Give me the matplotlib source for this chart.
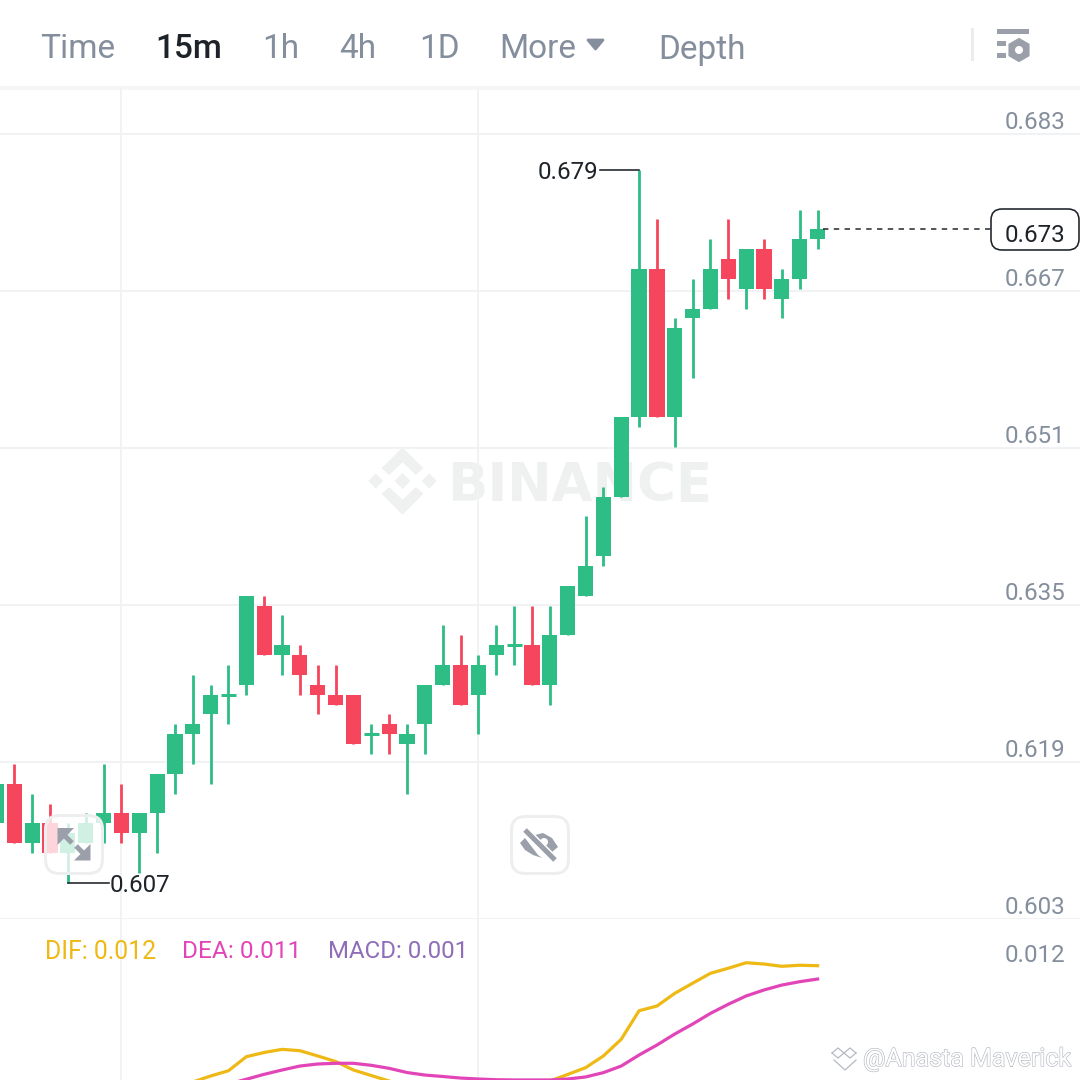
"""Binance style 15m candlestick chart with MACD panel."""

import numpy as np
import matplotlib
matplotlib.use("Agg")
import matplotlib.pyplot as plt
import matplotlib.patheffects as pe
from matplotlib.patches import Circle, FancyBboxPatch, Polygon, Rectangle

plt.rcParams['font.family'] = ['Roboto', 'DejaVu Sans']

# candles, oldest first
opens = [0.613, 0.617, 0.611, 0.613, 0.610, 0.611, 0.613, 0.614, 0.612, 0.614,
         0.618, 0.622, 0.624, 0.626, 0.627, 0.635, 0.630, 0.630, 0.627, 0.626,
         0.626, 0.622, 0.623, 0.621, 0.623, 0.627, 0.629, 0.626, 0.630, 0.631,
         0.631, 0.627, 0.632, 0.636, 0.640, 0.646, 0.654, 0.669, 0.654, 0.664,
         0.665, 0.670, 0.667, 0.671, 0.666, 0.668, 0.672]
closes = [0.617, 0.611, 0.613, 0.610, 0.612, 0.613, 0.614, 0.612, 0.614, 0.618,
          0.622, 0.623, 0.626, 0.626, 0.636, 0.630, 0.631, 0.628, 0.626, 0.625,
          0.621, 0.622, 0.622, 0.622, 0.627, 0.629, 0.625, 0.629, 0.631, 0.631,
          0.627, 0.632, 0.637, 0.639, 0.646, 0.654, 0.669, 0.654, 0.663, 0.665,
          0.669, 0.668, 0.671, 0.667, 0.668, 0.672, 0.673]
highs = [0.617, 0.619, 0.616, 0.615, 0.613, 0.614, 0.619, 0.617, 0.614, 0.618,
         0.623, 0.628, 0.627, 0.629, 0.636, 0.636, 0.634, 0.631, 0.629, 0.629,
         0.626, 0.623, 0.624, 0.623, 0.627, 0.633, 0.632, 0.630, 0.633, 0.635,
         0.635, 0.635, 0.637, 0.644, 0.647, 0.654, 0.679, 0.674, 0.664, 0.668,
         0.672, 0.674, 0.671, 0.672, 0.669, 0.675, 0.675]
lows = [0.613, 0.611, 0.610, 0.610, 0.607, 0.611, 0.611, 0.611, 0.608, 0.610,
        0.616, 0.619, 0.617, 0.623, 0.626, 0.630, 0.628, 0.626, 0.624, 0.625,
        0.621, 0.620, 0.620, 0.616, 0.620, 0.627, 0.625, 0.622, 0.628, 0.629,
        0.627, 0.625, 0.632, 0.636, 0.639, 0.646, 0.653, 0.654, 0.651, 0.658,
        0.665, 0.666, 0.665, 0.666, 0.664, 0.667, 0.671]

# MACD lines, both end on the last candle
dif_start = 11
dif = [0.00250, 0.00300, 0.00344, 0.00461, 0.00496, 0.00522, 0.00511, 0.00467,
       0.00421, 0.00350, 0.00304, 0.00258, 0.00225, 0.00208, 0.00208, 0.00217,
       0.00225, 0.00225, 0.00225, 0.00233, 0.00258, 0.00313, 0.00369, 0.00467,
       0.00606, 0.00844, 0.00883, 0.00989, 0.01073, 0.01156, 0.01198, 0.01244,
       0.01233, 0.01214, 0.01223, 0.01219]
dea_start = 12
dea = [0.00192, 0.00233, 0.00273, 0.00314, 0.00350, 0.00383, 0.00400, 0.00406,
       0.00406, 0.00389, 0.00364, 0.00329, 0.00308, 0.00296, 0.00283, 0.00275,
       0.00269, 0.00267, 0.00267, 0.00267, 0.00275, 0.00292, 0.00328, 0.00383,
       0.00475, 0.00558, 0.00650, 0.00733, 0.00822, 0.00898, 0.00967, 0.01017,
       0.01058, 0.01086, 0.01108]

grid_prices = [0.68264, 0.66678, 0.65092, 0.63506, 0.61920, 0.60334]
price_labels = ['0.683', '0.667', '0.651', '0.635', '0.619', '0.603']
time_grid = [7, 27]
macd_tick = 0.012
last_price = 0.673
max_price = 0.679
min_price = 0.607

tabs = ['Time', '15m', '1h', '4h', '1D', 'More', 'Depth']
tab_left = [40, 155, 262, 339, 419, 499, 658]

GREEN = '#2ebd85'
RED = '#f6465d'
GRAY = '#848e9c'
DARK = '#1e2329'
GRID = '#f1f2f3'
ICON = '#9a9fa9'
WATERMARK = '#eff1f1'


def px_to_pt(px):
    return px * 72 / 100


def chevrons(ax, cx, cy, scale, color):
    """Binance diamond logo, scale 1 is about 68 px across."""
    diamonds = [(0, 0, 8), (-26.7, 0, 7.5), (26.7, 0, 7.5)]
    for dx, dy, r in diamonds:
        ax.add_patch(Polygon([(cx + scale * dx, cy + scale * (dy - r)),
                              (cx + scale * (dx + r), cy + scale * dy),
                              (cx + scale * dx, cy + scale * (dy + r)),
                              (cx + scale * (dx - r), cy + scale * dy)],
                             fc=color, ec='none'))
    top = np.array([(0, -33.7), (21, -12.7), (13.3, -6), (0, -18.7), (-13.3, -6), (-21, -12.7)])
    for sign in (1, -1):
        pts = top * [scale, sign * scale] + [cx, cy]
        ax.add_patch(Polygon(pts, fc=color, ec='none'))


fig = plt.figure(figsize=(10.8, 10.8), dpi=100, facecolor='white')

# background layer, pixel coordinates
bg = fig.add_axes([0, 0, 1, 1], zorder=0)
bg.set_xlim(0, 1080)
bg.set_ylim(1080, 0)
bg.axis('off')
bg.add_patch(Rectangle((0, 86), 1080, 4, fc='#f6f6f6', ec='none'))
bg.add_patch(Rectangle((971, 28), 3, 33, fc='#ececec', ec='none'))
for label, left in zip(tabs, tab_left):
    active = label == '15m'
    bg.text(left, 49.5, label, fontsize=24, ha='left', va='center',
            color=DARK if active else GRAY, fontweight='medium' if active else 'normal')
bg.add_patch(Polygon([(588, 40), (603, 40), (595.5, 49)], fc=GRAY, ec=GRAY, lw=2, joinstyle='round'))

# settings icon
bg.add_patch(Rectangle((997, 29), 32, 5, fc=ICON, ec='none'))
bg.add_patch(Rectangle((997, 41), 9, 5, fc=ICON, ec='none'))
bg.add_patch(Rectangle((997, 53), 9, 5, fc=ICON, ec='none'))
hex_angles = np.deg2rad(np.arange(30, 390, 60))
bg.add_patch(Polygon(np.c_[1019 + 11 * np.cos(hex_angles), 50 + 11 * np.sin(hex_angles)], fc=ICON, ec=ICON, lw=1.5))
bg.add_patch(Circle((1019, 50), 4, fc='white', ec='none'))

# big watermark
chevrons(bg, 402.5, 481, 1, WATERMARK)
bg.text(447, 486, 'BINANCE', fontsize=38.2, fontweight='bold', family='DejaVu Sans',
        color=WATERMARK, ha='left', va='center')

# candles
ax = fig.add_axes([0, 161 / 1080, 1, 831 / 1080], zorder=1)
ax.patch.set_alpha(0)
idx = np.arange(len(opens))
o = np.array(opens)
c = np.array(closes)
colors = [RED if close < op else GREEN for op, close in zip(o, c)]
ax.vlines(idx, lows, highs, colors=colors, linewidth=px_to_pt(2.8), zorder=3)
ax.bar(idx, np.abs(c - o), bottom=np.minimum(o, c), width=0.85, color=colors, zorder=4)
flat = o == c
ax.hlines(o[flat], idx[flat] - 0.425, idx[flat] + 0.425, colors=GREEN, linewidth=px_to_pt(3), zorder=4)
ax.set_xlim(0.20, 60.70)
ax.set_ylim(0.60334, 0.68728)
ax.set_xticks(time_grid)
ax.set_yticks(grid_prices)
ax.grid(True, color=GRID, linewidth=px_to_pt(2))
ax.set_axisbelow(True)
ax.tick_params(length=0, labelbottom=False, labelleft=False)
for spine in ax.spines.values():
    spine.set_visible(False)

for label, price in zip(price_labels, grid_prices):
    ax.annotate(label, (1, price), xycoords=('axes fraction', 'data'),
                xytext=(px_to_pt(-14.5), px_to_pt(11.5)), textcoords='offset points',
                ha='right', va='center', fontsize=17.4, color=GRAY)

# high, low and last price markers
ax.plot([33.8, 36], [max_price, max_price], color=DARK, linewidth=px_to_pt(1.6), zorder=5)
ax.annotate('0.679', (36, max_price), xytext=(px_to_pt(-41), px_to_pt(-3)), textcoords='offset points',
            ha='right', va='center', fontsize=17.4, color=DARK)
ax.plot([4, 6.3], [min_price, min_price], color=DARK, linewidth=px_to_pt(1.6), zorder=5)
ax.annotate('0.607', (4, min_price), xytext=(px_to_pt(42), px_to_pt(-3)), textcoords='offset points',
            ha='left', va='center', fontsize=17.4, color=DARK)
ax.plot([46.3, 55.7], [last_price, last_price], color=DARK, linewidth=px_to_pt(1.5),
        dashes=(3.6, 3.6), zorder=5)

# MACD panel
macd_ax = fig.add_axes([0, 0, 1, 161 / 1080], zorder=1)
macd_ax.patch.set_alpha(0)
macd_ax.plot(np.arange(len(dif)) + dif_start, dif, color='#efb915', linewidth=px_to_pt(3.2))
macd_ax.plot(np.arange(len(dea)) + dea_start, dea, color='#e245b8', linewidth=px_to_pt(3.2))
macd_ax.set_xlim(0.20, 60.70)
macd_ax.set_ylim(0.002667, 0.016083)
macd_ax.set_xticks(time_grid)
macd_ax.set_yticks([])
macd_ax.grid(True, axis='x', color=GRID, linewidth=px_to_pt(2))
macd_ax.set_axisbelow(True)
macd_ax.tick_params(length=0, labelbottom=False, labelleft=False)
for spine in macd_ax.spines.values():
    spine.set_visible(False)
macd_ax.annotate('0.012', (1, macd_tick), xycoords=('axes fraction', 'data'),
                 xytext=(px_to_pt(-14.5), px_to_pt(12)), textcoords='offset points',
                 ha='right', va='center', fontsize=17.4, color=GRAY)

# top layer, pixel coordinates
fg = fig.add_axes([0, 0, 1, 1], zorder=2)
fg.set_xlim(0, 1080)
fg.set_ylim(1080, 0)
fg.axis('off')

fg.text(45, 952, 'DIF: 0.012', fontsize=17.9, color='#efb915', ha='left', va='center')
fg.text(182, 952, 'DEA: 0.011', fontsize=17.6, color='#e245b8', ha='left', va='center')
fg.text(328, 952, 'MACD: 0.001', fontsize=17.3, color='#8f6db8', ha='left', va='center')

# last price box
fg.add_patch(FancyBboxPatch((998, 216), 74, 27, boxstyle='round,pad=7,rounding_size=11',
                            fc='white', ec=DARK, lw=px_to_pt(1.6)))
fg.text(1035.5, 235, '0.673', fontsize=17.4, color=DARK, ha='center', va='center')

# expand button
fg.add_patch(FancyBboxPatch((56, 826), 36, 37, boxstyle='round,pad=10.5,rounding_size=14',
                            fc=(1, 1, 1, 0.78), ec='#eceef0', lw=px_to_pt(3)))
fg.add_patch(Polygon([(57.5, 828), (74, 828), (57.5, 845)], fc=ICON, ec='none'))
fg.add_patch(Polygon([(90.5, 860.5), (74, 860.5), (90.5, 844)], fc=ICON, ec='none'))
fg.plot([62, 72], [833, 843], color=ICON, linewidth=px_to_pt(5), solid_capstyle='butt')
fg.plot([76, 86], [846, 856], color=ICON, linewidth=px_to_pt(5), solid_capstyle='butt')

# hide button, eye with a slash through it
fg.add_patch(FancyBboxPatch((522, 827), 36, 36, boxstyle='round,pad=10.5,rounding_size=14',
                            fc='white', ec='#eceef0', lw=px_to_pt(3)))
fg.add_patch(Polygon([(535, 835), (543, 833), (552, 838), (558, 847), (552, 852)], fc=ICON, ec='none'))
fg.add_patch(Circle((544, 842), 4, fc='white', ec='none'))
fg.add_patch(Polygon([(520, 843), (525, 838), (538, 855), (542, 858), (533, 855), (525, 850)], fc=ICON, ec='none'))
fg.plot([525, 555], [830, 860], color=ICON, linewidth=px_to_pt(5), solid_capstyle='butt',
        path_effects=[pe.Stroke(linewidth=px_to_pt(8), foreground='white'), pe.Normal()])

# author watermark
fg.text(863, 1059, '@Anasta Maverick', fontsize=18, color='white', ha='left', va='center',
        path_effects=[pe.Stroke(linewidth=0.9, foreground='#b4bac2'), pe.Normal()])
for pts in ([(832, 1053), (838, 1048), (844, 1053)], [(844, 1053), (850, 1048), (856, 1053)],
            [(832, 1053), (838, 1058), (844, 1053)], [(844, 1053), (850, 1058), (856, 1053)],
            [(834, 1060), (845, 1070), (856, 1060)]):
    fg.plot(*zip(*pts), color='#b4bac2', linewidth=0.9)

fig.savefig('out.png', dpi=100)
